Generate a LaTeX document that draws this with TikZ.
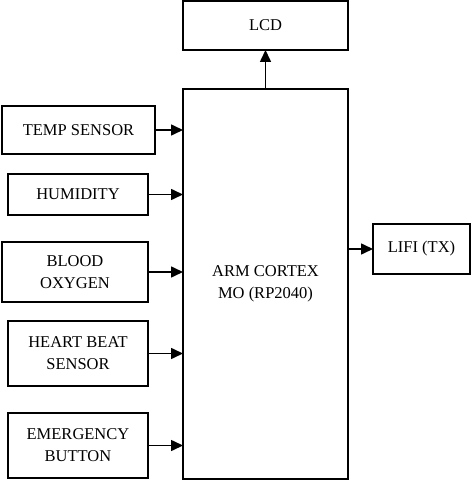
\documentclass[tikz,border=0pt]{standalone}
\usepackage{fontspec}
\setmainfont{Liberation Serif}
\usetikzlibrary{positioning,arrows.meta}

\begin{document}
\begin{tikzpicture}[x=1pt, y=-1pt, line width=1.6pt, >={Triangle[length=12pt,width=11pt]},
    block/.style={draw, align=center, inner sep=0pt, outer sep=0pt, font=\fontsize{16.5}{22}\selectfont}]
      \useasboundingbox (0,0) rectangle (474,481);
      \node (Mcu) [block, minimum width=165pt, minimum height=390pt] at (265.5,284) {ARM CORTEX\\MO (RP2040)};
      \node (Lcd) [block, minimum width=165pt, minimum height=49pt] at (265.5,25.5) {LCD};
      \node (Lifi) [block, minimum width=97pt, minimum height=50pt] at (421.5,249) {LIFI (TX)};
      \node (Temp) [block, minimum width=153pt, minimum height=48pt] at (78.5,130) {TEMP SENSOR};
      \node (Hum) [block, minimum width=140pt, minimum height=41pt] at (78,194.5) {HUMIDITY};
      \node (Spo) [block, minimum width=146pt, minimum height=60pt] at (75,272) {BLOOD\\OXYGEN};
      \node (Heart) [block, minimum width=140pt, minimum height=65pt] at (78,353.5) {HEART BEAT\\SENSOR};
      \node (Sos) [block, minimum width=140pt, minimum height=65pt] at (78,445.5) {EMERGENCY\\BUTTON};
      \path[->]
        (Mcu) edge node {} (Lcd)
        (Mcu.east |- Lifi) edge node {} (Lifi)
        (Temp) edge node {} (Temp -| Mcu.west)
        (Hum) edge node {} (Hum -| Mcu.west)
        (Spo) edge node {} (Spo -| Mcu.west)
        (Heart) edge node {} (Heart -| Mcu.west)
        (Sos) edge node {} (Sos -| Mcu.west);
    \end{tikzpicture}
\end{document}
